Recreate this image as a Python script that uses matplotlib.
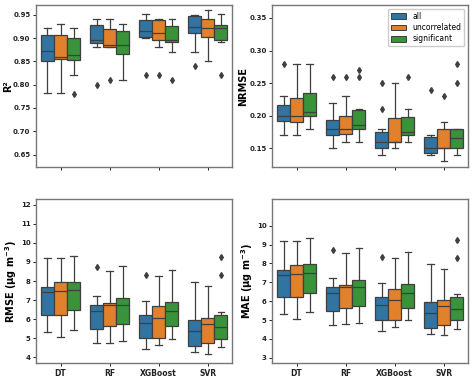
import numpy as np
import matplotlib
matplotlib.use('Agg')
import matplotlib.pyplot as plt
from matplotlib.patches import Patch

models = ['DT', 'RF', 'XGBoost', 'SVR']
hues = ['all', 'uncorrelated', 'significant']
colors = ['#3274a1', '#e1812c', '#3a923a']
line_gray = '#3f3f3f'

# box summaries, per model:
# (lower whisker, Q1, median, Q3, upper whisker)
r2_all = [(0.782, 0.850, 0.872, 0.907, 0.921), (0.880, 0.890, 0.895, 0.928, 0.941),
          (0.901, 0.903, 0.916, 0.938, 0.951), (0.871, 0.910, 0.923, 0.948, 0.950)]
r2_unc = [(0.782, 0.855, 0.860, 0.907, 0.931), (0.880, 0.880, 0.886, 0.920, 0.941),
          (0.880, 0.895, 0.910, 0.938, 0.940), (0.850, 0.903, 0.921, 0.940, 0.961)]
r2_sig = [(0.821, 0.853, 0.863, 0.901, 0.921), (0.811, 0.866, 0.886, 0.916, 0.931),
          (0.871, 0.891, 0.896, 0.926, 0.940), (0.891, 0.896, 0.921, 0.928, 0.951)]
r2_fl_all = [[], [0.80], [0.82], [0.84]]
r2_fl_unc = [[], [0.81], [0.82], []]
r2_fl_sig = [[0.78], [], [0.81], [0.82]]

nrmse_all = [(0.170, 0.192, 0.200, 0.217, 0.230), (0.150, 0.170, 0.180, 0.194, 0.220),
             (0.140, 0.151, 0.160, 0.175, 0.180), (0.140, 0.142, 0.150, 0.168, 0.170)]
nrmse_unc = [(0.170, 0.190, 0.200, 0.227, 0.280), (0.160, 0.172, 0.180, 0.199, 0.230),
             (0.150, 0.160, 0.160, 0.197, 0.250), (0.130, 0.150, 0.150, 0.180, 0.190)]
nrmse_sig = [(0.180, 0.200, 0.205, 0.235, 0.280), (0.160, 0.180, 0.185, 0.208, 0.210),
             (0.160, 0.170, 0.175, 0.198, 0.210), (0.140, 0.150, 0.165, 0.180, 0.180)]
nrmse_fl_all = [[0.28], [0.26], [0.25, 0.21], [0.24]]
nrmse_fl_unc = [[], [0.26], [], [0.23]]
nrmse_fl_sig = [[], [0.27, 0.26], [0.26], [0.28, 0.25]]

rmse_all = [(5.33, 6.24, 7.41, 7.67, 9.21), (4.74, 5.50, 6.41, 6.73, 7.23),
            (4.44, 5.03, 5.78, 6.22, 6.96), (4.26, 4.58, 5.40, 5.96, 7.97)]
rmse_unc = [(5.05, 6.24, 7.46, 7.93, 9.19), (4.77, 5.66, 6.75, 6.85, 8.54),
            (4.63, 5.03, 6.06, 6.67, 8.28), (4.19, 4.75, 5.75, 6.06, 7.72)]
rmse_sig = [(5.45, 6.46, 7.51, 7.97, 9.33), (4.86, 5.75, 6.73, 7.13, 8.81),
            (4.98, 5.64, 6.45, 6.92, 8.60), (4.52, 4.98, 5.59, 6.24, 6.36)]
rmse_fl_all = [[], [8.74], [8.33], []]
rmse_fl_unc = [[], [], [], []]
rmse_fl_sig = [[], [], [], [9.26, 8.30]]

# the MAE panel in the source shows the same boxes as RMSE
mae_all, mae_unc, mae_sig = rmse_all, rmse_unc, rmse_sig
mae_fl_all, mae_fl_unc, mae_fl_sig = rmse_fl_all, rmse_fl_unc, rmse_fl_sig


def draw(ax, summaries, fliers, ylabel, ylim, yticks, fmt, xlabels):
    w = 0.8 / 3
    for j in range(3):
        stats = []
        for i in range(len(models)):
            lo, q1, med, q3, hi = summaries[j][i]
            stats.append(dict(whislo=lo, q1=q1, med=med, q3=q3, whishi=hi,
                              fliers=fliers[j][i]))
        pos = np.arange(len(models)) + (j - 1) * w
        ax.bxp(stats, positions=pos, widths=w * 0.98, patch_artist=True,
               showfliers=True, manage_ticks=False,
               boxprops=dict(facecolor=colors[j], edgecolor=line_gray, linewidth=0.9),
               medianprops=dict(color=line_gray, linewidth=0.9),
               whiskerprops=dict(color=line_gray, linewidth=0.9),
               capprops=dict(color=line_gray, linewidth=0.9),
               flierprops=dict(marker='d', markerfacecolor=line_gray,
                               markeredgecolor=line_gray, markersize=3))
    ax.set_xlim(-0.5, 3.5)
    ax.set_ylim(*ylim)
    ax.set_yticks(yticks)
    ax.set_yticklabels([fmt.format(t) for t in yticks], fontsize=5, fontweight='bold')
    ax.set_xticks(range(len(models)))
    if xlabels:
        ax.set_xticklabels(models, fontsize=5.5, fontweight='bold')
    else:
        ax.set_xticklabels([])
    ax.set_ylabel(ylabel, fontsize=7, fontweight='bold', labelpad=1)
    ax.tick_params(length=2, width=0.7, pad=2, colors='#222222')
    for s in ax.spines.values():
        s.set_color('#777777')
        s.set_linewidth(1.0)


fig = plt.figure(figsize=(4.74, 3.79), dpi=100)
ax1 = fig.add_axes([0.076, 0.559, 0.414, 0.428])
ax2 = fig.add_axes([0.574, 0.559, 0.414, 0.428])
ax3 = fig.add_axes([0.076, 0.042, 0.414, 0.433])
ax4 = fig.add_axes([0.574, 0.042, 0.414, 0.433])

draw(ax1, [r2_all, r2_unc, r2_sig], [r2_fl_all, r2_fl_unc, r2_fl_sig],
     'R²', (0.623, 0.971), np.arange(0.65, 0.951, 0.05), '{:.2f}', False)
ax1.yaxis.set_label_coords(-0.115, 0.5)
draw(ax2, [nrmse_all, nrmse_unc, nrmse_sig], [nrmse_fl_all, nrmse_fl_unc, nrmse_fl_sig],
     'NRMSE', (0.121, 0.370), np.arange(0.15, 0.351, 0.05), '{:.2f}', False)
draw(ax3, [rmse_all, rmse_unc, rmse_sig], [rmse_fl_all, rmse_fl_unc, rmse_fl_sig],
     r'RMSE ($\mathbf{\mu}$g m$^{\mathbf{-3}}$)', (3.70, 12.30), np.arange(4, 13), '{:d}', True)
draw(ax4, [mae_all, mae_unc, mae_sig], [mae_fl_all, mae_fl_unc, mae_fl_sig],
     r'MAE ($\mathbf{\mu}$g m$^{\mathbf{-3}}$)', (2.72, 11.42), np.arange(3, 11), '{:d}', True)

handles = [Patch(facecolor=c, edgecolor=line_gray, linewidth=0.7) for c in colors]
ax2.legend(handles, hues, loc='upper right', fontsize=5.5, handlelength=2.0,
           handleheight=0.8, borderpad=0.4, labelspacing=0.3, framealpha=1.0)

fig.savefig('out.png', dpi=100)
